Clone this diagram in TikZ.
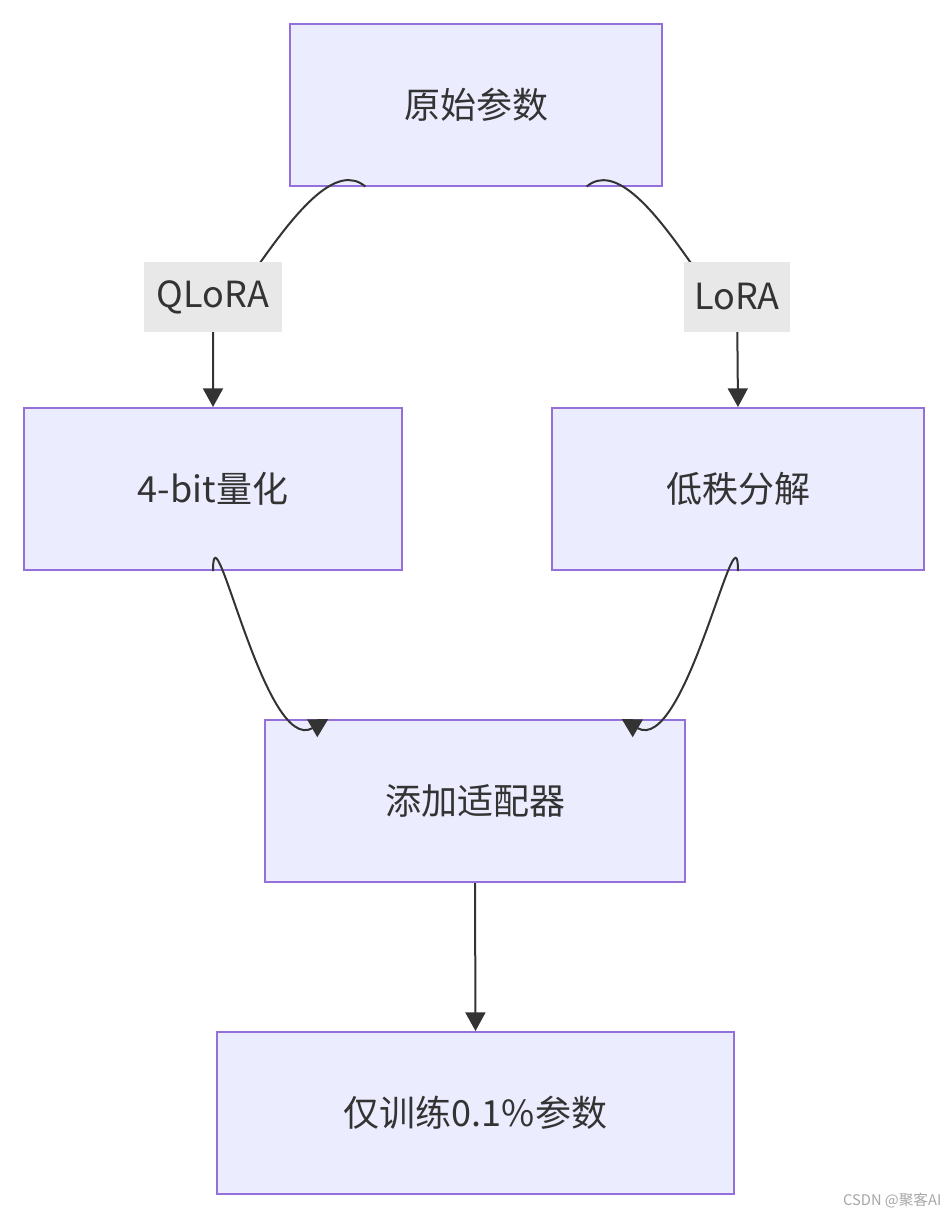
\documentclass[tikz,border=0pt]{standalone}
\usepackage{fontspec}
\setmainfont{Noto Sans CJK SC}
\usetikzlibrary{arrows.meta}
\definecolor{boxfill}{HTML}{ECECFF}
\definecolor{boxline}{HTML}{9370DB}
\definecolor{lblfill}{HTML}{E8E8E8}
\definecolor{ink}{HTML}{333333}
\begin{document}
\begin{tikzpicture}[x=0.75pt,y=0.75pt,yscale=-1,xscale=1,
  procbox/.style={draw=boxline,fill=boxfill,line width=1.5pt,minimum height=121.5pt,inner sep=0pt,text=ink,font=\fontsize{27}{32}\selectfont},
  lbl/.style={fill=lblfill,inner sep=0pt,minimum height=52pt,text=ink,font=\fontsize{27}{32}\selectfont},
  arr/.style={draw=ink,line width=1.5pt,-{Triangle[length=14pt,width=15pt]}}]
\useasboundingbox (0,0) rectangle (948,1218);

% Boxes
\node[procbox,minimum width=279pt] (orig) at (476,104.5) {原始参数};
\node[procbox,minimum width=283.5pt] (quant) at (213,489) {4-bit量化};
\node[procbox,minimum width=279pt] (lowrank) at (738,489) {低秩分解};
\node[procbox,minimum width=315pt] (adapter) at (475,801) {添加适配器};
\node[procbox,minimum width=388pt] (train) at (475.5,1113) {仅训练0.1\%参数};

% Edge labels
\coordinate (qmid) at (213,297);
\coordinate (lmid) at (737,297);

% Connectors
\draw[arr] ([xshift=-83pt]orig.south) to[out=-140,in=90] (qmid) -- (quant.north);
\draw[arr] ([xshift=83pt]orig.south) to[out=-40,in=90] (lmid) -- (lowrank.north);
\draw[arr] (quant.south) to[out=-90,in=150] ([xshift=-110pt]adapter.north);
\draw[arr] (lowrank.south) to[out=-90,in=30] ([xshift=110pt]adapter.north);
\draw[arr] (adapter.south) -- (train.north);

\node[lbl,minimum width=103.5pt] (qlbl) at (qmid) {QLoRA};
\node[lbl,minimum width=79pt] (llbl) at (lmid) {LoRA};

% Watermark
\node[text=gray!70,font=\fontsize{11}{13}\selectfont,anchor=east] (mark) at (946,1201) {CSDN @聚客AI};
\end{tikzpicture}
\end{document}
